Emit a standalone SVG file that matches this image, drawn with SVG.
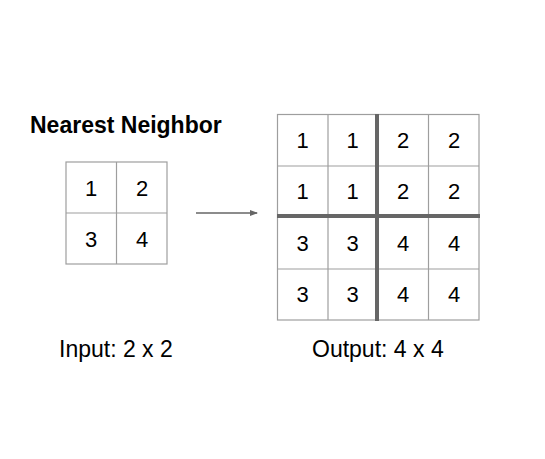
<svg xmlns="http://www.w3.org/2000/svg" width="545" height="459" viewBox="0 0 545 459">
<defs>
<marker id="ah" markerWidth="8" markerHeight="6" refX="7" refY="3" orient="auto" markerUnits="userSpaceOnUse">
<path d="M0,0 L8,3 L0,6 z" fill="#666"/>
</marker>
</defs>
<style>
.grid{fill:none;stroke:#9e9e9e;stroke-width:1.2}
.thick{stroke:#666;stroke-width:4}
.num{font-family:"Liberation Sans",Arial,sans-serif;font-size:22px;fill:#000;text-anchor:middle}
.lbl{font-family:"Liberation Sans",Arial,sans-serif;font-size:23px;fill:#000}
.title{font-family:"Liberation Sans",Arial,sans-serif;font-size:23px;font-weight:bold;fill:#000}
</style>
<rect width="545" height="459" fill="#fff"/>
<text class="title" x="30" y="133">Nearest Neighbor</text>
<g id="input">
<rect class="grid" x="66" y="162" width="101" height="102"/>
<line class="grid" x1="116.5" y1="162" x2="116.5" y2="264"/>
<line class="grid" x1="66" y1="213" x2="167" y2="213"/>
<text class="num" x="91" y="196">1</text>
<text class="num" x="142" y="196">2</text>
<text class="num" x="91" y="247">3</text>
<text class="num" x="142" y="247">4</text>
</g>
<g id="connectors">
<line x1="196" y1="213" x2="257" y2="213" stroke="#666" stroke-width="1.3" marker-end="url(#ah)"/>
</g>
<g id="output">
<rect class="grid" x="277.5" y="114.5" width="201.5" height="205.5"/>
<line class="grid" x1="328" y1="114.5" x2="328" y2="320"/>
<line class="grid" x1="428.5" y1="114.5" x2="428.5" y2="320"/>
<line class="grid" x1="277.5" y1="166" x2="479" y2="166"/>
<line class="grid" x1="277.5" y1="269" x2="479" y2="269"/>
<line class="thick" x1="377" y1="114" x2="377" y2="321"/>
<line class="thick" x1="277" y1="216" x2="480" y2="216"/>
<text class="num" x="302.5" y="148">1</text>
<text class="num" x="352.5" y="148">1</text>
<text class="num" x="403" y="148">2</text>
<text class="num" x="454" y="148">2</text>
<text class="num" x="302.5" y="199">1</text>
<text class="num" x="352.5" y="199">1</text>
<text class="num" x="403" y="199">2</text>
<text class="num" x="454" y="199">2</text>
<text class="num" x="302.5" y="251">3</text>
<text class="num" x="352.5" y="251">3</text>
<text class="num" x="403" y="251">4</text>
<text class="num" x="454" y="251">4</text>
<text class="num" x="302.5" y="302">3</text>
<text class="num" x="352.5" y="302">3</text>
<text class="num" x="403" y="302">4</text>
<text class="num" x="454" y="302">4</text>
</g>
<text class="lbl" x="59" y="357">Input: 2 x 2</text>
<text class="lbl" x="312" y="357">Output: 4 x 4</text>
</svg>
